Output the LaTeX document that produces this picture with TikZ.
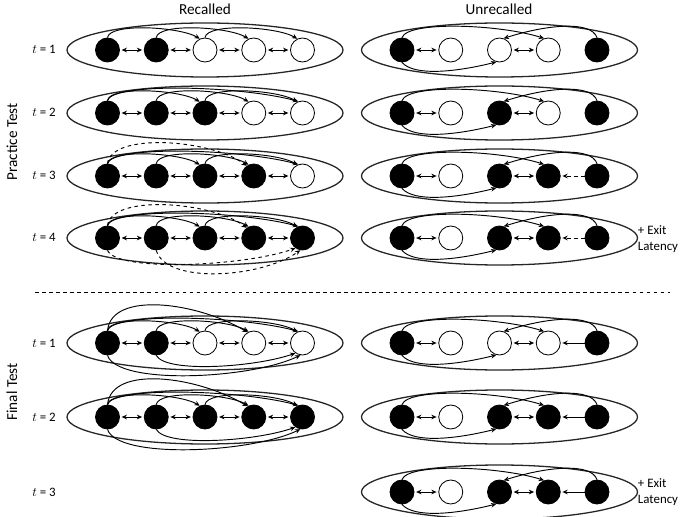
\documentclass[tikz,border=0pt]{standalone}
\usepackage{fontspec}
\setmainfont{Carlito}
\usetikzlibrary{arrows.meta}

\tikzset{
  item/.style={circle, draw, line width=0.7pt, minimum size=0.72cm, inner sep=0pt},
  frame/.style={line width=1.1pt, black!85},
  link/.style={<->, line width=0.6pt, shorten >=1.5pt, shorten <=1.5pt},
  jump/.style={->, line width=0.8pt},
  rowlabel/.style={font=\fontsize{11}{13}\selectfont},
  colhead/.style={font=\fontsize{13}{15}\selectfont},
}

% one trial: ellipse with five items
\newcommand{\trial}[4]{%
  \draw[frame] (#2,#3) ellipse [x radius=138, y radius=27];
  \foreach \f [count=\i] in {#4}
    \node[item, fill=\f] (#1\i) at ({#2-97.5+48.75*(\i-1)},#3) {};
}

\begin{document}
\begin{tikzpicture}[x=0.03cm, y=0.03cm, >={Stealth[length=4.5pt,width=4pt]}]
\useasboundingbox (0,0) rectangle (685,-517);

% column heads
\node[colhead] (hrec) at (205,-9) {Recalled};
\node[colhead] (hunr) at (499,-9) {Unrecalled};

% side labels
\node[colhead, rotate=90] (hprac) at (12,-142) {Practice Test};
\node[colhead, rotate=90] (hfin) at (12,-392) {Final Test};

\node[rowlabel] (t1) at (44,-49) {$t$ = 1};
\node[rowlabel] (t2) at (44,-112) {$t$ = 2};
\node[rowlabel] (t3) at (44,-175) {$t$ = 3};
\node[rowlabel] (t4) at (44,-237) {$t$ = 4};
\node[rowlabel] (f1) at (44,-343) {$t$ = 1};
\node[rowlabel] (f2) at (44,-417) {$t$ = 2};
\node[rowlabel] (f3) at (44,-492) {$t$ = 3};

% === practice test, recalled ===
\trial{pa}{205}{-50}{black,black,white,white,white}
\trial{pb}{205}{-113}{black,black,black,white,white}
\trial{pc}{205}{-176}{black,black,black,black,white}
\trial{pd}{205}{-238}{black,black,black,black,black}

\draw[jump, dashed] (pc1.north) .. controls +(4,32) and +(-34,26) .. (pc4.125);
\draw[jump, dashed] (pd1.north) .. controls +(4,32) and +(-34,26) .. (pd4.125);
\draw[jump, dashed] (pd1.south) .. controls +(10,-22) and +(-50,-18) .. (pd5.235);
\draw[jump, dashed] (pd2.south) .. controls +(10,-34) and +(-40,-28) .. (pd5.260);

% === practice test, unrecalled ===
\trial{qa}{499.5}{-50}{black,white,white,white,black}
\trial{qb}{499.5}{-113}{black,white,black,white,black}
\trial{qc}{499.5}{-176}{black,white,black,black,black}
\trial{qd}{499.5}{-238}{black,white,black,black,black}
\foreach \n in {qa,qb,qc,qd} {
  \draw[link] (\n1) -- (\n2);
  \draw[link] (\n3) -- (\n4);
}
\draw[jump, dashed, shorten >=1.5pt] (qc5) -- (qc4);
\draw[jump, dashed, shorten >=1.5pt] (qd5) -- (qd4);
\node[rowlabel, align=left] (xa) at (658,-239) {+ Exit\\Latency};

% === final test, recalled ===
\trial{fa}{205}{-343}{black,black,white,white,white}
\trial{fb}{205}{-417}{black,black,black,black,black}
\foreach \n in {fa,fb} {
  \draw[jump] (\n1.north) .. controls +(4,40) and +(-50,30) .. (\n4.120);
  \draw[jump] (\n1.south) .. controls +(10,-30) and +(-50,-24) .. (\n5.260);
  \draw[jump] (\n2.south) .. controls +(10,-18) and +(-40,-14) .. (\n5.235);
}

% === final test, unrecalled ===
\trial{ga}{499.5}{-343}{black,white,white,white,black}
\trial{gb}{499.5}{-417}{black,white,black,black,black}
\trial{gc}{499.5}{-492}{black,white,black,black,black}
\foreach \n in {ga,gb,gc} {
  \draw[link] (\n1) -- (\n2);
  \draw[link] (\n3) -- (\n4);
  \draw[jump, shorten >=1.5pt] (\n5) -- (\n4);
}
\node[rowlabel, align=left] (xb) at (658,-492) {+ Exit\\Latency};

% neighbours and lag-2 links in the recalled lists
\foreach \n in {pa,pb,pc,pd,fa,fb} {
  \foreach \a/\b in {1/2,2/3,3/4,4/5}
    \draw[link] (\n\a) -- (\n\b);
  \foreach \a/\b in {1/3,2/4,3/5}
    \draw[jump] (\n\a.north) .. controls +(2,15) and +(-20,12) .. (\n\b.115);
}
\foreach \n in {pb,pc,pd,fa,fb}
  \draw[jump] (\n1.north) .. controls +(4,18) and +(-60,16) .. (\n5.110);

% cross links in the unrecalled lists
\foreach \n in {qa,qb,qc,qd,ga,gb,gc} {
  \draw[jump] (\n1.north) .. controls +(6,17) and +(-44,14) .. (\n4.110);
  \draw[jump] (\n5.north) .. controls +(-6,17) and +(44,14) .. (\n3.70);
  \draw[jump] (\n1.south) .. controls +(12,-14) and +(-40,-10) .. (\n3.255);
}

% divider
\draw[dashed, line width=0.8pt] (35,-292) -- (670,-292);
\end{tikzpicture}
\end{document}
